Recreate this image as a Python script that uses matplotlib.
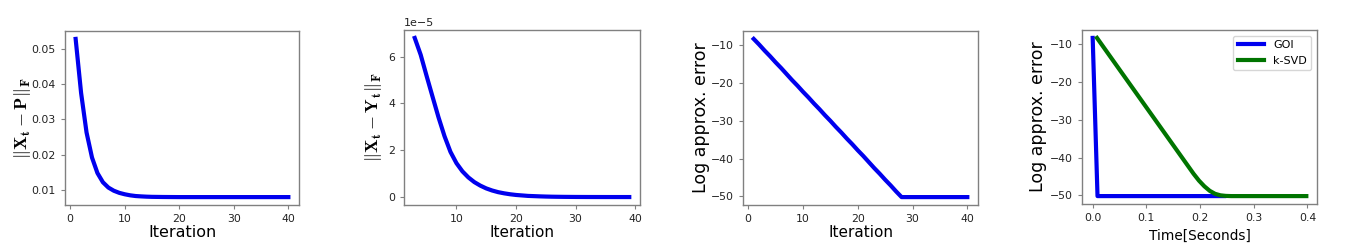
import matplotlib

matplotlib.use("Agg")
import matplotlib.pyplot as plt
import numpy as np

# %% Data
iters_p = list(range(1, 41))
err_xp = [0.0528, 0.0375, 0.0263, 0.0192, 0.0148, 0.0122, 0.0107, 0.0098, 0.0092, 0.0088,
          0.0085, 0.0083, 0.0082, 0.00812, 0.00807, 0.00805, 0.00803, 0.00802, 0.00801, 0.0080,
          0.0080, 0.0080, 0.0080, 0.0080, 0.0080, 0.0080, 0.0080, 0.0080, 0.0080, 0.0080,
          0.0080, 0.0080, 0.0080, 0.0080, 0.0080, 0.0080, 0.0080, 0.0080, 0.0080, 0.0080]

iters_y = list(range(3, 40))
err_xy = [6.8, 6.08, 5.17, 4.28, 3.40, 2.60, 1.93, 1.45, 1.10, 0.84,
          0.64, 0.49, 0.37, 0.28, 0.21, 0.16, 0.12, 0.09, 0.07, 0.05,
          0.04, 0.03, 0.022, 0.016, 0.012, 0.009, 0.007, 0.005, 0.004, 0.003,
          0.0025, 0.002, 0.0015, 0.0013, 0.0011, 0.001, 0.001]
err_xy = [v * 1e-5 for v in err_xy]

iters_log = list(range(1, 41))
log_err = [-8.3, -9.8, -11.4, -12.9, -14.5, -16.0, -17.6, -19.2, -20.7, -22.3,
           -23.8, -25.4, -26.9, -28.5, -30.0, -31.6, -33.1, -34.7, -36.2, -37.8,
           -39.3, -40.9, -42.5, -44.0, -45.6, -47.1, -48.7, -50.2, -50.2, -50.2,
           -50.2, -50.2, -50.2, -50.2, -50.2, -50.2, -50.2, -50.2, -50.2, -50.2]

goi_time = [0.0, 0.009, 0.245]
goi_err = [-8.3, -50.2, -50.2]

ksvd_time = [0.008, 0.018, 0.028, 0.038, 0.048, 0.058, 0.068, 0.078, 0.088, 0.098,
             0.108, 0.118, 0.128, 0.138, 0.148, 0.158, 0.168, 0.178, 0.188, 0.198,
             0.208, 0.218, 0.228, 0.238, 0.248, 0.258, 0.268, 0.278, 0.288, 0.298,
             0.308, 0.318, 0.328, 0.338, 0.348, 0.358, 0.368, 0.378, 0.388, 0.398]
ksvd_err = [-8.3, -10.3, -12.3, -14.3, -16.3, -18.3, -20.3, -22.3, -24.3, -26.3,
            -28.3, -30.3, -32.3, -34.3, -36.3, -38.3, -40.3, -42.3, -44.3, -46.1,
            -47.6, -48.8, -49.6, -50.0, -50.15, -50.2, -50.2, -50.2, -50.2, -50.2,
            -50.2, -50.2, -50.2, -50.2, -50.2, -50.2, -50.2, -50.2, -50.2, -50.2]

# %% Figure
W, H = 1350, 249
fig = plt.figure(figsize=(W / 100, H / 100), dpi=100)

spine_col = "#808080"


def make_axes(left, top, right, bottom):
    ax = fig.add_axes([left / W, 1 - bottom / H, (right - left) / W, (bottom - top) / H])
    for s in ax.spines.values():
        s.set_color(spine_col)
        s.set_linewidth(1.0)
    ax.tick_params(colors="#222222", labelsize=7.8, length=3, width=0.8)
    ax.tick_params(color=spine_col)
    return ax


ax1 = make_axes(65, 31, 299, 205)
ax1.plot(iters_p, err_xp, color="#0000ee", linewidth=3)
ax1.set_xlabel("Iteration", fontsize=11.5, labelpad=1)
ax1.set_ylabel(r"$\|\mathbf{X_t} - \mathbf{P}\|_\mathbf{F}$", fontsize=13,
               math_fontfamily="cm", labelpad=-1)
ax1.set_xticks([0, 10, 20, 30, 40])
ax1.set_yticks([0.01, 0.02, 0.03, 0.04, 0.05])

ax2 = make_axes(404, 30, 640, 205)
ax2.plot(iters_y, err_xy, color="#0000ee", linewidth=3)
ax2.set_xlabel("Iteration", fontsize=11, labelpad=1)
ax2.set_ylabel(r"$\|\mathbf{X_t} - \mathbf{Y_t}\|_\mathbf{F}$", fontsize=13,
               math_fontfamily="cm", labelpad=3)
ax2.set_xticks([10, 20, 30, 40])
ax2.set_yticks([0, 2e-5, 4e-5, 6e-5])
ax2.yaxis.get_offset_text().set_fontsize(8)

ax3 = make_axes(743, 31, 978, 205)
ax3.plot(iters_log, log_err, color="#0000ee", linewidth=3)
ax3.set_xlabel("Iteration", fontsize=11, labelpad=1)
ax3.set_ylabel("Log approx. error", fontsize=12.5, labelpad=1)
ax3.set_xticks([0, 10, 20, 30, 40])
ax3.set_yticks([-50, -40, -30, -20, -10])

ax4 = make_axes(1082, 30, 1317, 204)
ax4.plot(goi_time, goi_err, color="#0000ee", linewidth=3, label="GOI")
ax4.plot(ksvd_time, ksvd_err, color="#007400", linewidth=3, label="k-SVD")
ax4.set_xlabel("Time[Seconds]", fontsize=9.8)
ax4.set_ylabel("Log approx. error", fontsize=12.5, labelpad=2)
ax4.set_xticks([0.0, 0.1, 0.2, 0.3, 0.4])
ax4.set_yticks([-50, -40, -30, -20, -10])
ax4.legend(loc="upper right", fontsize=8, handlelength=2.4)

plt.savefig("out.png", dpi=100)
